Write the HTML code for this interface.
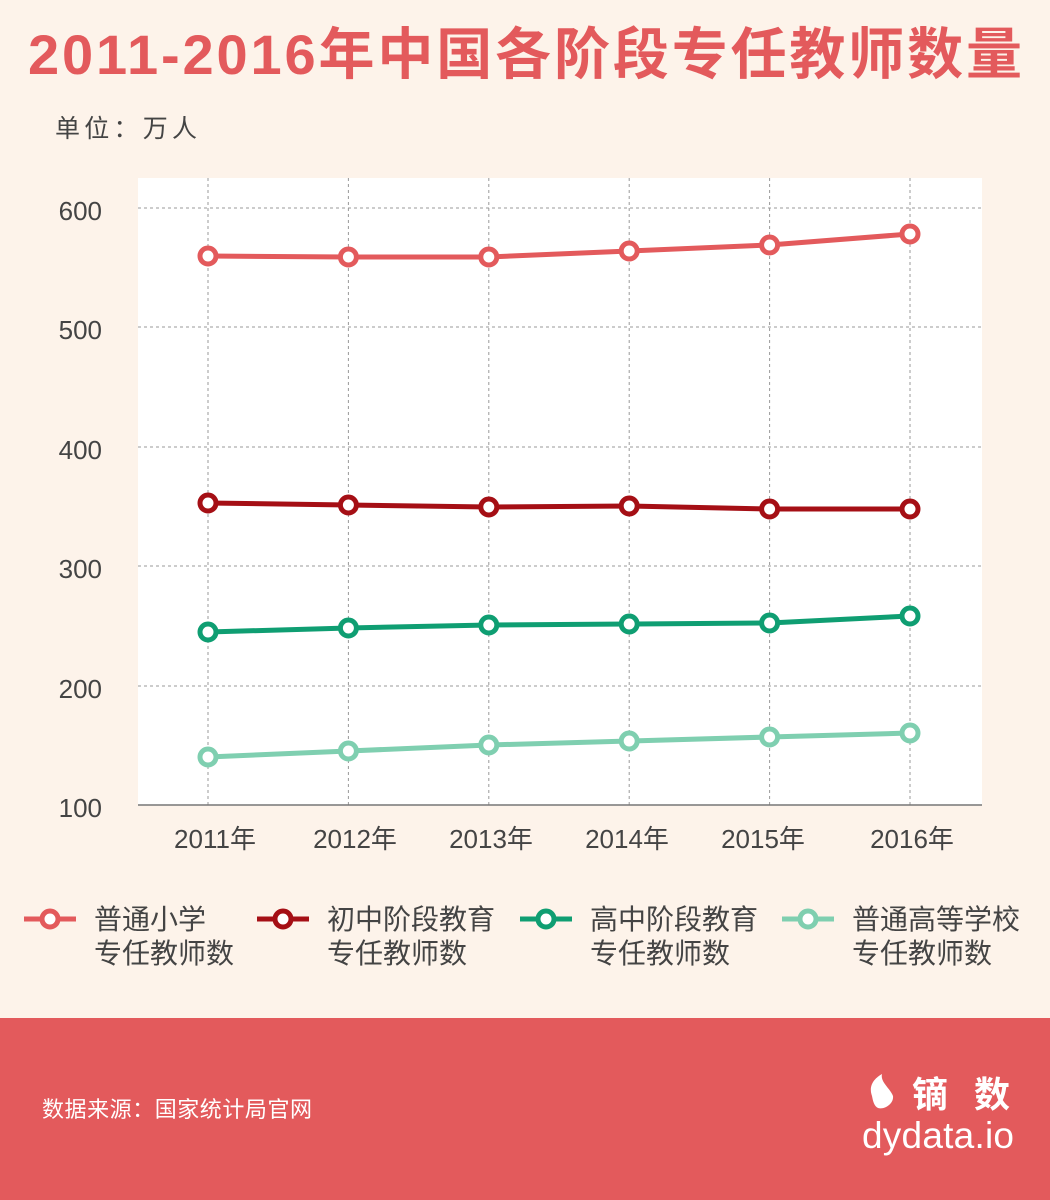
<!DOCTYPE html>
<html><head><meta charset="utf-8"><style>
body{margin:0;width:1050px;height:1200px;background:#fdf3ea;overflow:hidden;font-family:"Liberation Sans","Noto Sans CJK SC",sans-serif}
</style></head><body>
<svg width="1050" height="1200" xmlns="http://www.w3.org/2000/svg" style="position:absolute;left:0;top:0">
<rect width="1050" height="1200" fill="#fdf3ea"/>
<text x="28" y="74" textLength="994" font-size="56" font-weight="bold" fill="#e35a5c" font-family="Liberation Sans,Noto Sans CJK SC,sans-serif">2011-2016年中国各阶段专任教师数量</text>
<text x="55" y="137" textLength="142" font-size="25" fill="#444" font-family="Liberation Sans,Noto Sans CJK SC,sans-serif">单位：万人</text>
<rect x="138" y="178" width="844" height="627" fill="#fff"/>
<g stroke="#999" stroke-dasharray="3,3" stroke-width="1">
<line x1="138" x2="982" y1="208" y2="208"/><line x1="138" x2="982" y1="327" y2="327"/><line x1="138" x2="982" y1="447" y2="447"/><line x1="138" x2="982" y1="566" y2="566"/><line x1="138" x2="982" y1="686" y2="686"/>
<line x1="208" x2="208" y1="178" y2="805"/><line x1="348.4" x2="348.4" y1="178" y2="805"/><line x1="488.8" x2="488.8" y1="178" y2="805"/><line x1="629.2" x2="629.2" y1="178" y2="805"/><line x1="769.6" x2="769.6" y1="178" y2="805"/><line x1="910" x2="910" y1="178" y2="805"/>
</g>
<line x1="138" x2="982" y1="805" y2="805" stroke="#777" stroke-width="1.5"/>
<g font-size="26" fill="#444" text-anchor="end" font-family="Liberation Sans,sans-serif">
<text x="102" y="220">600</text><text x="102" y="339">500</text><text x="102" y="459">400</text><text x="102" y="578">300</text><text x="102" y="698">200</text><text x="102" y="817">100</text>
</g>
<g font-size="26" fill="#444" text-anchor="middle" font-family="Liberation Sans,Noto Sans CJK SC,sans-serif">
<text x="215" y="848">2011年</text><text x="355" y="848">2012年</text><text x="491" y="848">2013年</text><text x="627" y="848">2014年</text><text x="763" y="848">2015年</text><text x="912" y="848">2016年</text>
</g>
<g fill="#fff" stroke-width="5">
<polyline fill="none" stroke="#e35a5c" points="208,256 348.4,257 488.8,257 629.2,251 769.6,245 910,234"/>
<g stroke="#e35a5c"><circle cx="208" cy="256" r="8"/><circle cx="348.4" cy="257" r="8"/><circle cx="488.8" cy="257" r="8"/><circle cx="629.2" cy="251" r="8"/><circle cx="769.6" cy="245" r="8"/><circle cx="910" cy="234" r="8"/></g>
<polyline fill="none" stroke="#a50f15" points="208,503 348.4,505 488.8,507 629.2,506 769.6,509 910,509"/>
<g stroke="#a50f15"><circle cx="208" cy="503" r="8"/><circle cx="348.4" cy="505" r="8"/><circle cx="488.8" cy="507" r="8"/><circle cx="629.2" cy="506" r="8"/><circle cx="769.6" cy="509" r="8"/><circle cx="910" cy="509" r="8"/></g>
<polyline fill="none" stroke="#0f9e72" points="208,632 348.4,628 488.8,625 629.2,624 769.6,623 910,616"/>
<g stroke="#0f9e72"><circle cx="208" cy="632" r="8"/><circle cx="348.4" cy="628" r="8"/><circle cx="488.8" cy="625" r="8"/><circle cx="629.2" cy="624" r="8"/><circle cx="769.6" cy="623" r="8"/><circle cx="910" cy="616" r="8"/></g>
<polyline fill="none" stroke="#7fcfb0" points="208,757 348.4,751 488.8,745 629.2,741 769.6,737 910,733"/>
<g stroke="#7fcfb0"><circle cx="208" cy="757" r="8"/><circle cx="348.4" cy="751" r="8"/><circle cx="488.8" cy="745" r="8"/><circle cx="629.2" cy="741" r="8"/><circle cx="769.6" cy="737" r="8"/><circle cx="910" cy="733" r="8"/></g>
</g>
<g stroke-width="5" fill="#fff">
<line x1="24" x2="76" y1="919" y2="919" stroke="#e35a5c"/><circle cx="50" cy="919" r="8" stroke="#e35a5c"/>
<line x1="257" x2="309" y1="919" y2="919" stroke="#a50f15"/><circle cx="283" cy="919" r="8" stroke="#a50f15"/>
<line x1="520" x2="572" y1="919" y2="919" stroke="#0f9e72"/><circle cx="546" cy="919" r="8" stroke="#0f9e72"/>
<line x1="782" x2="834" y1="919" y2="919" stroke="#7fcfb0"/><circle cx="808" cy="919" r="8" stroke="#7fcfb0"/>
</g>
<g font-size="28" fill="#444" font-family="Liberation Sans,Noto Sans CJK SC,sans-serif">
<text x="94" y="929">普通小学</text><text x="94" y="963">专任教师数</text>
<text x="327" y="929">初中阶段教育</text><text x="327" y="963">专任教师数</text>
<text x="590" y="929">高中阶段教育</text><text x="590" y="963">专任教师数</text>
<text x="852" y="929">普通高等学校</text><text x="852" y="963">专任教师数</text>
</g>
<rect x="0" y="1018" width="1050" height="182" fill="#e35a5c"/>
<text x="42" y="1117" textLength="270" font-size="22" fill="#fff" font-family="Liberation Sans,Noto Sans CJK SC,sans-serif">数据来源：国家统计局官网</text>
<path d="M872,1096 C868,1085 875,1078 882,1074 C880,1082 890,1088 893,1096 C894,1104 884,1110 878,1108 C874,1106 873,1101 872,1096Z" fill="#fff"/>
<text x="912" y="1107" font-size="36" font-weight="bold" fill="#fff" font-family="Noto Sans CJK SC,sans-serif">镝</text>
<text x="974" y="1107" font-size="36" font-weight="bold" fill="#fff" font-family="Noto Sans CJK SC,sans-serif">数</text>
<text x="862" y="1148" textLength="152" font-size="37" fill="#fff" font-family="Liberation Sans,sans-serif">dydata.io</text>
</svg>
</body></html>
